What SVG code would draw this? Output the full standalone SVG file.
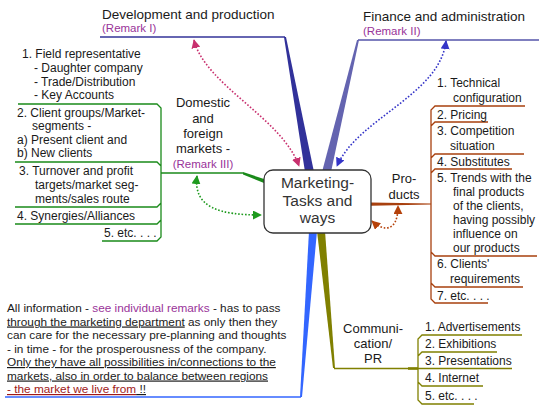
<svg xmlns="http://www.w3.org/2000/svg" width="539" height="409" viewBox="0 0 539 409">
<style>
text{font-family:"Liberation Sans",Arial,sans-serif;fill:#1a1a1a}
.it{font-size:12px}
.lb{font-size:13px;text-anchor:middle}
.hd{font-size:13.5px}
.rm{font-size:11.5px;fill:#993399}
.ct{font-size:15.5px;text-anchor:middle;fill:#333}
.pg{font-size:11.8px}
.g{stroke:#1a8a1a;fill:none;stroke-width:1.3}
.r{stroke:#a8400e;fill:none;stroke-width:1.3}
.o{stroke:#808000;fill:none;stroke-width:1.3}
.dot{fill:none;stroke-width:1.6;stroke-dasharray:1.6 1.8}
</style>
<defs>
<marker id="aM" viewBox="0 0 10 10" refX="9" refY="5" markerWidth="9" markerHeight="9" markerUnits="userSpaceOnUse" orient="auto-start-reverse"><path d="M0,0 L10,5 L0,10 z" fill="#c8306e"/></marker>
<marker id="aB" viewBox="0 0 10 10" refX="9" refY="5" markerWidth="9" markerHeight="9" markerUnits="userSpaceOnUse" orient="auto-start-reverse"><path d="M0,0 L10,5 L0,10 z" fill="#3434c8"/></marker>
<marker id="aG" viewBox="0 0 10 10" refX="9" refY="5" markerWidth="9" markerHeight="9" markerUnits="userSpaceOnUse" orient="auto-start-reverse"><path d="M0,0 L10,5 L0,10 z" fill="#1e9a1e"/></marker>
<marker id="aR" viewBox="0 0 10 10" refX="9" refY="5" markerWidth="9" markerHeight="9" markerUnits="userSpaceOnUse" orient="auto-start-reverse"><path d="M0,0 L10,5 L0,10 z" fill="#b5420b"/></marker>
</defs>
<rect width="539" height="409" fill="#fff"/>
<g id="connectors">
  <!-- main wedges -->
  <line x1="100" y1="37" x2="285" y2="37" stroke="#333399" stroke-width="1.3"/>
  <polygon points="284,37 286,37 314,172 305,172" fill="#31319a"/>
  <line x1="358" y1="40" x2="539" y2="40" stroke="#5555aa" stroke-width="1.3"/>
  <polygon points="357,40 359,40 331,172 322,172" fill="#6464b0"/>
  <polygon points="309,231 317,231 302,397 300,397" fill="#3366ff"/>
  <line x1="5" y1="397" x2="301" y2="397" stroke="#3366ff" stroke-width="1.3"/>
  <polygon points="317,231 325,231 335,368 333,368" fill="#808000"/>
  <!-- green (domestic markets) -->
  <line class="g" x1="161" y1="173" x2="243" y2="173"/>
  <polygon points="243,172 243,174.5 264,183 264,179" fill="#1a8a1a"/>
  <path class="g" d="M18,104 H157 L161,108 V237 L157,241 H102 M15,162 H157 L161,166 M15,207 H157 L161,203 M15,224 H157 L161,220"/>
  <!-- products -->
  <polygon points="371,202.5 371,205.8 431,204.6 431,203.6" fill="#a8400e"/>
  <path class="r" d="M525,106 H435 L431,110 V299 L435,303 H488 M488,122 H435 L431,126 M524,154 H435 L431,158 M512,169 H435 L431,173 M537,256 H435 L431,252 M523,287 H435 L431,283"/>
  <!-- communication -->
  <line class="o" x1="334" y1="368.5" x2="418" y2="368.5"/>
  <line x1="408" y1="368.5" x2="418" y2="368.5" stroke="#808000" stroke-width="2.6"/>
  <path class="o" d="M522,335 H422 L418,339 V400 L422,404 H474 M497,352 H422 L418,356 M512,368.5 H418 M483,386 H422 L418,382"/>
  <!-- dotted relations -->
  <path class="dot" stroke="#c8306e" d="M194,40 C205,85 282,118 299,166" marker-start="url(#aM)" marker-end="url(#aM)"/>
  <path class="dot" stroke="#3434c8" d="M446,41 C440,95 358,118 337,166" marker-start="url(#aB)" marker-end="url(#aB)"/>
  <path class="dot" stroke="#1e9a1e" d="M197,176 C193,208 220,215 261,215" marker-start="url(#aG)" marker-end="url(#aG)"/>
  <path class="dot" stroke="#b5420b" d="M372,221 C384,232 398,232 398,206" marker-start="url(#aR)" marker-end="url(#aR)"/>
</g>
<g id="center">
  <rect x="264" y="170" width="107" height="63" rx="9" fill="#fff" stroke="#333" stroke-width="1.3"/>
  <text class="ct" x="317.5" y="188">Marketing-</text>
  <text class="ct" x="317.5" y="206">Tasks and</text>
  <text class="ct" x="317.5" y="223">ways</text>
</g>
<g id="development">
  <text class="hd" x="102" y="19">Development and production</text>
  <text class="rm" x="102" y="32">(Remark I)</text>
</g>
<g id="finance">
  <text class="hd" x="363" y="21">Finance and administration</text>
  <text class="rm" x="363" y="35">(Remark II)</text>
</g>
<g id="markets">
  <text class="lb" x="203" y="107">Domestic</text>
  <text class="lb" x="203" y="122.5">and</text>
  <text class="lb" x="203" y="137.5">foreign</text>
  <text class="lb" x="203" y="153">markets -</text>
  <text class="rm" x="203" y="168" text-anchor="middle">(Remark III)</text>
</g>
<g id="markets-items">
  <text class="it" x="22" y="58">1. Field representative</text>
  <text class="it" x="34" y="72">- Daughter company</text>
  <text class="it" x="34" y="85.5">- Trade/Distribution</text>
  <text class="it" x="34" y="99">- Key Accounts</text>
  <text class="it" x="17" y="117">2. Client groups/Market-</text>
  <text class="it" x="32" y="130">segments -</text>
  <text class="it" x="17" y="144">a) Present client and</text>
  <text class="it" x="17" y="157">b) New clients</text>
  <text class="it" x="19" y="175">3. Turnover and profit</text>
  <text class="it" x="35" y="189">targets/market seg-</text>
  <text class="it" x="35" y="203">ments/sales route</text>
  <text class="it" x="17" y="220">4. Synergies/Alliances</text>
  <text class="it" x="104" y="237">5. etc. . . .</text>
</g>
<g id="products">
  <text class="lb" x="404" y="183">Pro-</text>
  <text class="lb" x="404" y="199">ducts</text>
</g>
<g id="products-items">
  <text class="it" x="437" y="87">1. Technical</text>
  <text class="it" x="453" y="102">configuration</text>
  <text class="it" x="437" y="119">2. Pricing</text>
  <text class="it" x="437" y="135">3. Competition</text>
  <text class="it" x="450" y="150">situation</text>
  <text class="it" x="437" y="166">4. Substitutes</text>
  <text class="it" x="437" y="182">5. Trends with the</text>
  <text class="it" x="453" y="196">final products</text>
  <text class="it" x="453" y="210">of the clients,</text>
  <text class="it" x="453" y="224">having possibly</text>
  <text class="it" x="453" y="238">influence on</text>
  <text class="it" x="453" y="252">our products</text>
  <text class="it" x="437" y="268">6. Clients'</text>
  <text class="it" x="450" y="283">requirements</text>
  <text class="it" x="437" y="300">7. etc. . . .</text>
</g>
<g id="communication">
  <text class="lb" x="373" y="333">Communi-</text>
  <text class="lb" x="373" y="348">cation/</text>
  <text class="lb" x="373" y="363">PR</text>
</g>
<g id="communication-items">
  <text class="it" x="425" y="331">1. Advertisements</text>
  <text class="it" x="425" y="348">2. Exhibitions</text>
  <text class="it" x="425" y="365">3. Presentations</text>
  <text class="it" x="425" y="382">4. Internet</text>
  <text class="it" x="425" y="400">5. etc. . . .</text>
</g>
<g id="note">
  <text class="pg" x="7" y="312">All information - <tspan fill="#993399">see individual remarks</tspan> - has to pass</text>
  <text class="pg" x="7" y="325.5"><tspan text-decoration="underline">through the marketing department</tspan> as only then they</text>
  <text class="pg" x="7" y="339">can care for the necessary pre-planning and thoughts</text>
  <text class="pg" x="7" y="352.5">- in time - for the prosperousness of the company.</text>
  <text class="pg" x="7" y="366" text-decoration="underline">Only they have all possibilities in/connections to the</text>
  <text class="pg" x="7" y="379.5" text-decoration="underline">markets, also in order to balance between regions</text>
  <text class="pg" x="7" y="393"><tspan fill="#a01818" text-decoration="underline">- the market we live from</tspan><tspan text-decoration="underline"> !!</tspan></text>
</g>
</svg>
